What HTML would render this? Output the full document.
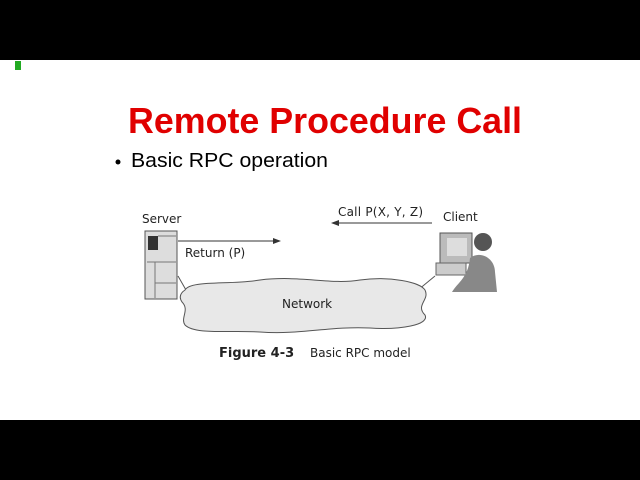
<!DOCTYPE html>
<html><head><style>
body{margin:0;width:640px;height:480px;overflow:hidden;background:#000;font-family:"Liberation Sans",sans-serif}
</style></head><body>
<svg width="640" height="480" xmlns="http://www.w3.org/2000/svg" style="position:absolute;left:0;top:0">
<rect x="0" y="0" width="640" height="480" fill="#000"/>
<rect x="0" y="60" width="640" height="360" fill="#fff"/>
<rect x="15" y="61" width="6" height="9" fill="#2a2" />
<text x="325" y="133" font-size="36" font-weight="bold" fill="#e00000" text-anchor="middle" font-family="Liberation Sans" textLength="394" lengthAdjust="spacingAndGlyphs">Remote Procedure Call</text>
<circle cx="118" cy="162" r="2.5" fill="#000"/>
<text x="131" y="167" font-size="20" fill="#000" font-family="Liberation Sans" textLength="197" lengthAdjust="spacingAndGlyphs">Basic RPC operation</text>
<line x1="178" y1="241" x2="276" y2="241" stroke="#333" stroke-width="1"/>
<polygon points="281,241 273,238 273,244" fill="#333"/>
<line x1="432" y1="223" x2="337" y2="223" stroke="#333" stroke-width="1"/>
<polygon points="331,223 339,220 339,226" fill="#333"/>
<rect x="145" y="231" width="32" height="68" fill="#ddd" stroke="#555"/>
<rect x="148" y="236" width="10" height="14" fill="#333"/>
<line x1="158" y1="236" x2="176" y2="236" stroke="#777"/>
<line x1="147" y1="262" x2="176" y2="262" stroke="#777"/>
<line x1="155" y1="283" x2="176" y2="283" stroke="#777"/>
<line x1="155" y1="262" x2="155" y2="298" stroke="#777"/>
<line x1="178" y1="276" x2="186" y2="290" stroke="#555"/>
<line x1="435" y1="276" x2="418" y2="290" stroke="#555"/>
<path d="M185,290 C190,280 230,285 260,280 C300,275 330,285 360,280 C390,276 420,282 425,290 C430,300 415,305 425,315 C430,325 400,330 370,328 C330,326 300,335 260,332 C230,330 195,335 185,325 C180,318 190,310 182,302 C178,296 182,292 185,290 Z" fill="#e8e8e8" stroke="#555"/>
<rect x="440" y="233" width="32" height="30" fill="#bbb" stroke="#555"/>
<rect x="447" y="238" width="20" height="18" fill="#ddd"/>
<rect x="436" y="263" width="30" height="12" fill="#ccc" stroke="#666"/>
<circle cx="483" cy="242" r="9" fill="#555"/>
<path d="M470,258 C480,250 495,258 495,272 L497,292 L452,292 C458,282 468,278 470,258 Z" fill="#888"/>
<g font-family="DejaVu Sans, sans-serif" font-size="12" fill="#222">
<text x="142" y="223">Server</text>
<text x="338" y="216" textLength="85">Call P(X, Y, Z)</text>
<text x="443" y="221">Client</text>
<text x="185" y="257">Return (P)</text>
<text x="282" y="308">Network</text>
<text x="219" y="357" font-weight="bold" font-size="13">Figure 4-3</text>
<text x="310" y="357">Basic RPC model</text>
</g>
</svg>
</body></html>
